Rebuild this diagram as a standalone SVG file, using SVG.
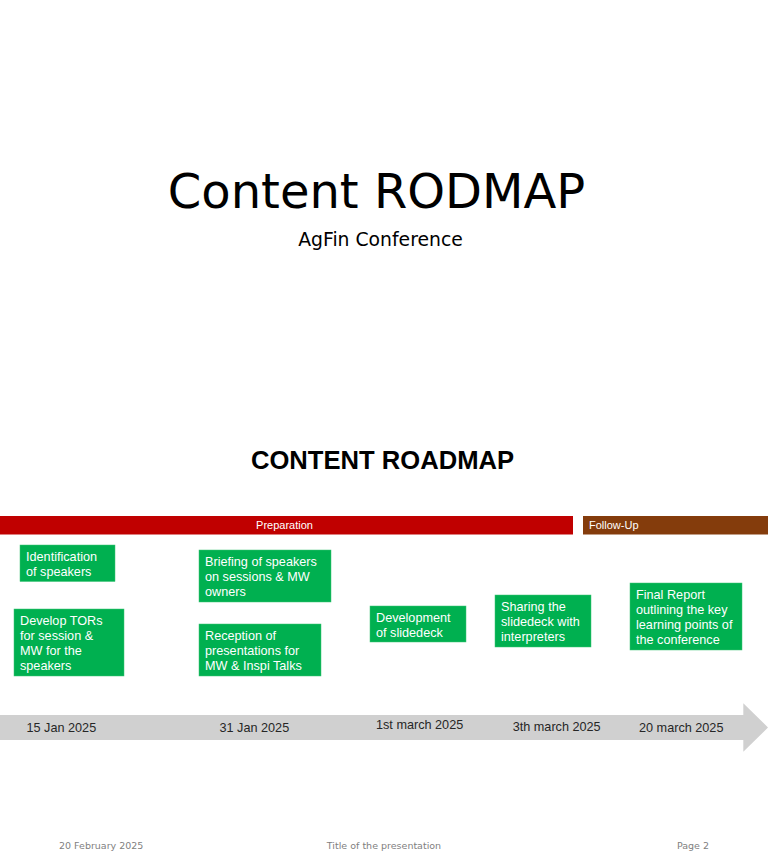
<svg xmlns="http://www.w3.org/2000/svg" width="768" height="866" viewBox="0 0 768 866">
<style>
.box{fill:#00B050;stroke:#3CC476;stroke-width:0.5}
.bt{font-family:"Liberation Sans",Arial,sans-serif;font-size:12.67px;fill:#ffffff}
.dt{font-family:"Liberation Sans",Arial,sans-serif;font-size:12.67px;fill:#262626}
.ft{font-family:"DejaVu Sans",sans-serif;font-size:9.5px;fill:#7f7f7f}
.bar{font-family:"Liberation Sans",Arial,sans-serif;font-size:11px;fill:#ffffff}
</style>
<rect width="768" height="866" fill="#ffffff"/>
<g id="title">
<text x="376.5" y="208" text-anchor="middle" font-family="DejaVu Sans, sans-serif" font-size="48" fill="#000">Content RODMAP</text>
<text x="380.5" y="246" text-anchor="middle" font-family="DejaVu Sans, sans-serif" font-size="18.8" fill="#000">AgFin Conference</text>
</g>
<g id="heading">
<text x="382.5" y="469" text-anchor="middle" font-family="Liberation Sans, Arial, sans-serif" font-weight="bold" font-size="25.6" fill="#000">CONTENT ROADMAP</text>
</g>
<g id="phase-preparation">
<rect x="0" y="516" width="573" height="18.5" fill="#C00000"/>
<text class="bar" x="284.5" y="529" text-anchor="middle">Preparation</text>
</g>
<g id="phase-followup">
<rect x="583" y="516" width="185" height="18.5" fill="#843C0C"/>
<text class="bar" x="589" y="529">Follow-Up</text>
</g>
<g id="timeline">
<path d="M0 715 H743.3 V703.3 L768 727.5 L743.3 751.7 V740 H0 Z" fill="#D0D0D0"/>
<text class="dt" x="26.5" y="732.3">15 Jan 2025</text>
<text class="dt" x="219.5" y="731.7">31 Jan 2025</text>
<text class="dt" x="376" y="729.3">1st march 2025</text>
<text class="dt" x="512.7" y="730.7">3th march 2025</text>
<text class="dt" x="639" y="732.3">20 march 2025</text>
</g>
<g id="node-identification">
<rect class="box" x="20" y="545" width="95" height="36.5"/>
<text class="bt" x="26"><tspan x="26" y="561">Identification</tspan><tspan x="26" y="576.2">of speakers</tspan></text>
</g>
<g id="node-tors">
<rect class="box" x="14" y="609" width="110" height="67"/>
<text class="bt"><tspan x="20" y="624.5">Develop TORs</tspan><tspan x="20" y="639.7">for session &amp;</tspan><tspan x="20" y="654.9">MW for the</tspan><tspan x="20" y="670.1">speakers</tspan></text>
</g>
<g id="node-briefing">
<rect class="box" x="199" y="550" width="132" height="52"/>
<text class="bt"><tspan x="205" y="566">Briefing of speakers</tspan><tspan x="205" y="581.2">on sessions &amp; MW</tspan><tspan x="205" y="596.4">owners</tspan></text>
</g>
<g id="node-reception">
<rect class="box" x="199" y="624" width="122" height="52"/>
<text class="bt"><tspan x="205" y="639.5">Reception of</tspan><tspan x="205" y="654.7">presentations for</tspan><tspan x="205" y="669.9">MW &amp; Inspi Talks</tspan></text>
</g>
<g id="node-slidedeck">
<rect class="box" x="370" y="606" width="96" height="36"/>
<text class="bt"><tspan x="376" y="621.5">Development</tspan><tspan x="376" y="636.7">of slidedeck</tspan></text>
</g>
<g id="node-sharing">
<rect class="box" x="495" y="595" width="96" height="52"/>
<text class="bt"><tspan x="501" y="610.5">Sharing the</tspan><tspan x="501" y="625.7">slidedeck with</tspan><tspan x="501" y="640.9">interpreters</tspan></text>
</g>
<g id="node-report">
<rect class="box" x="630" y="583" width="112" height="67"/>
<text class="bt"><tspan x="636" y="598.5">Final Report</tspan><tspan x="636" y="613.7">outlining the key</tspan><tspan x="636" y="628.9">learning points of</tspan><tspan x="636" y="644.1">the conference</tspan></text>
</g>
<g id="footer">
<text class="ft" x="59" y="849">20 February 2025</text>
<text class="ft" x="384" y="849" text-anchor="middle">Title of the presentation</text>
<text class="ft" x="709" y="849" text-anchor="end">Page 2</text>
</g>
</svg>
